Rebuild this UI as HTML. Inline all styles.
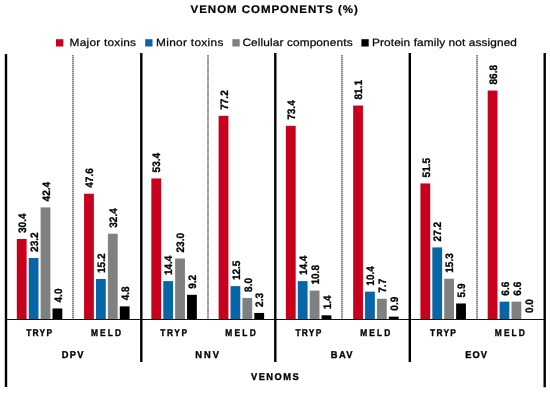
<!DOCTYPE html><html><head><meta charset="utf-8"><style>html,body{margin:0;padding:0;background:#fff;overflow:hidden;width:550px;height:393px;}svg{display:block;}text{font-family:"Liberation Sans",Arial,sans-serif;fill:#000;text-rendering:geometricPrecision;}text.b{stroke:#000;stroke-width:0.3px;}text.t{stroke:#000;stroke-width:0.2px;}text.c{stroke:#000;stroke-width:0.35px;}text.v{stroke:#000;stroke-width:0.3px;}text.l{stroke:#161616;stroke-width:0.25px;}</style></head><body>
<svg width="550" height="393" viewBox="0 0 550 393">
<rect width="550" height="393" fill="#fff"/>
<text transform="translate(190.6,12.6) scale(1.05,1)" class="t" font-size="11" font-weight="bold" textLength="159.24" lengthAdjust="spacing">VENOM COMPONENTS (%)</text>
<rect x="56" y="39.2" width="7.3" height="7.3" fill="#C8001E"/>
<text transform="translate(69.6,45.7) scale(1.12,1)" class="l" font-size="10.6" fill="#161616" textLength="59.29" lengthAdjust="spacing">Major toxins</text>
<rect x="145.2" y="39.2" width="7.3" height="7.3" fill="#0866A6"/>
<text transform="translate(156.0,45.7) scale(1.12,1)" class="l" font-size="10.6" fill="#161616" textLength="60.18" lengthAdjust="spacing">Minor toxins</text>
<rect x="232.4" y="39.2" width="7.3" height="7.3" fill="#808080"/>
<text transform="translate(242.4,45.7) scale(1.12,1)" class="l" font-size="10.6" fill="#161616" textLength="98.39" lengthAdjust="spacing">Cellular components</text>
<rect x="361.4" y="39.2" width="7.3" height="7.3" fill="#000000"/>
<text transform="translate(372.0,45.7) scale(1.12,1)" class="l" font-size="10.6" fill="#161616" textLength="129.46" lengthAdjust="spacing">Protein family not assigned</text>
<line x1="73.00" y1="55" x2="73.00" y2="319" stroke="#c2c2c2" stroke-width="2"/>
<line x1="73.00" y1="55" x2="73.00" y2="319" stroke="#8c8c8c" stroke-width="2" stroke-dasharray="1 1"/>
<line x1="208.00" y1="55" x2="208.00" y2="319" stroke="#c2c2c2" stroke-width="2"/>
<line x1="208.00" y1="55" x2="208.00" y2="319" stroke="#8c8c8c" stroke-width="2" stroke-dasharray="1 1"/>
<line x1="342.00" y1="55" x2="342.00" y2="319" stroke="#c2c2c2" stroke-width="2"/>
<line x1="342.00" y1="55" x2="342.00" y2="319" stroke="#8c8c8c" stroke-width="2" stroke-dasharray="1 1"/>
<line x1="477.00" y1="55" x2="477.00" y2="319" stroke="#c2c2c2" stroke-width="2"/>
<line x1="477.00" y1="55" x2="477.00" y2="319" stroke="#8c8c8c" stroke-width="2" stroke-dasharray="1 1"/>
<rect x="16.81" y="238.99" width="9.8" height="80.01" fill="#C8001E"/>
<text transform="translate(25.91,232.99) rotate(-90) scale(0.93,1)" class="v" font-size="10.8" font-weight="bold">30.4</text>
<rect x="28.71" y="257.94" width="9.8" height="61.06" fill="#0866A6"/>
<text transform="translate(37.81,251.94) rotate(-90) scale(0.93,1)" class="v" font-size="10.8" font-weight="bold">23.2</text>
<rect x="40.61" y="207.40" width="9.8" height="111.60" fill="#808080"/>
<text transform="translate(49.71,201.40) rotate(-90) scale(0.93,1)" class="v" font-size="10.8" font-weight="bold">42.4</text>
<rect x="52.51" y="308.47" width="9.8" height="10.53" fill="#000000"/>
<text transform="translate(61.61,302.47) rotate(-90) scale(0.93,1)" class="v" font-size="10.8" font-weight="bold">4.0</text>
<text transform="translate(26.22,336.4) scale(0.84,1)" class="c" font-size="10" font-weight="bold" textLength="30.74" lengthAdjust="spacing">TRYP</text>
<rect x="84.08" y="193.72" width="9.8" height="125.28" fill="#C8001E"/>
<text transform="translate(93.18,187.72) rotate(-90) scale(0.93,1)" class="v" font-size="10.8" font-weight="bold">47.6</text>
<rect x="95.98" y="278.99" width="9.8" height="40.01" fill="#0866A6"/>
<text transform="translate(105.08,272.99) rotate(-90) scale(0.93,1)" class="v" font-size="10.8" font-weight="bold">15.2</text>
<rect x="107.88" y="233.72" width="9.8" height="85.28" fill="#808080"/>
<text transform="translate(116.98,227.72) rotate(-90) scale(0.93,1)" class="v" font-size="10.8" font-weight="bold">32.4</text>
<rect x="119.78" y="306.37" width="9.8" height="12.63" fill="#000000"/>
<text transform="translate(128.88,300.37) rotate(-90) scale(0.93,1)" class="v" font-size="10.8" font-weight="bold">4.8</text>
<text transform="translate(90.97,336.4) scale(0.84,1)" class="c" font-size="10" font-weight="bold" textLength="35.92" lengthAdjust="spacing">MELD</text>
<text transform="translate(61.84,358.2) scale(0.95,1)" class="c" font-size="9.8" font-weight="bold" textLength="22.84" lengthAdjust="spacing">DPV</text>
<rect x="151.34" y="178.45" width="9.8" height="140.55" fill="#C8001E"/>
<text transform="translate(160.44,172.45) rotate(-90) scale(0.93,1)" class="v" font-size="10.8" font-weight="bold">53.4</text>
<rect x="163.25" y="281.10" width="9.8" height="37.90" fill="#0866A6"/>
<text transform="translate(172.34,275.10) rotate(-90) scale(0.93,1)" class="v" font-size="10.8" font-weight="bold">14.4</text>
<rect x="175.15" y="258.46" width="9.8" height="60.54" fill="#808080"/>
<text transform="translate(184.25,252.46) rotate(-90) scale(0.93,1)" class="v" font-size="10.8" font-weight="bold">23.0</text>
<rect x="187.04" y="294.79" width="9.8" height="24.21" fill="#000000"/>
<text transform="translate(196.14,288.79) rotate(-90) scale(0.93,1)" class="v" font-size="10.8" font-weight="bold">9.2</text>
<text transform="translate(160.22,336.4) scale(0.84,1)" class="c" font-size="10" font-weight="bold" textLength="31.93" lengthAdjust="spacing">TRYP</text>
<rect x="218.62" y="115.81" width="9.8" height="203.19" fill="#C8001E"/>
<text transform="translate(227.72,109.81) rotate(-90) scale(0.93,1)" class="v" font-size="10.8" font-weight="bold">77.2</text>
<rect x="230.52" y="286.10" width="9.8" height="32.90" fill="#0866A6"/>
<text transform="translate(239.62,280.10) rotate(-90) scale(0.93,1)" class="v" font-size="10.8" font-weight="bold">12.5</text>
<rect x="242.42" y="297.94" width="9.8" height="21.06" fill="#808080"/>
<text transform="translate(251.52,291.94) rotate(-90) scale(0.93,1)" class="v" font-size="10.8" font-weight="bold">8.0</text>
<rect x="254.32" y="312.95" width="9.8" height="6.05" fill="#000000"/>
<text transform="translate(263.42,306.95) rotate(-90) scale(0.93,1)" class="v" font-size="10.8" font-weight="bold">2.3</text>
<text transform="translate(225.37,336.4) scale(0.84,1)" class="c" font-size="10" font-weight="bold" textLength="36.15" lengthAdjust="spacing">MELD</text>
<text transform="translate(195.14,358.2) scale(0.95,1)" class="c" font-size="9.8" font-weight="bold" textLength="25.16" lengthAdjust="spacing">NNV</text>
<rect x="285.88" y="125.81" width="9.8" height="193.19" fill="#C8001E"/>
<text transform="translate(294.98,119.81) rotate(-90) scale(0.93,1)" class="v" font-size="10.8" font-weight="bold">73.4</text>
<rect x="297.78" y="281.10" width="9.8" height="37.90" fill="#0866A6"/>
<text transform="translate(306.88,275.10) rotate(-90) scale(0.93,1)" class="v" font-size="10.8" font-weight="bold">14.4</text>
<rect x="309.69" y="290.57" width="9.8" height="28.43" fill="#808080"/>
<text transform="translate(318.78,284.57) rotate(-90) scale(0.93,1)" class="v" font-size="10.8" font-weight="bold">10.8</text>
<rect x="321.58" y="315.32" width="9.8" height="3.68" fill="#000000"/>
<text transform="translate(330.68,309.32) rotate(-90) scale(0.93,1)" class="v" font-size="10.8" font-weight="bold">1.4</text>
<text transform="translate(295.42,336.4) scale(0.84,1)" class="c" font-size="10" font-weight="bold" textLength="30.74" lengthAdjust="spacing">TRYP</text>
<rect x="353.15" y="105.54" width="9.8" height="213.46" fill="#C8001E"/>
<text transform="translate(362.25,99.54) rotate(-90) scale(0.93,1)" class="v" font-size="10.8" font-weight="bold">81.1</text>
<rect x="365.05" y="291.63" width="9.8" height="27.37" fill="#0866A6"/>
<text transform="translate(374.15,285.63) rotate(-90) scale(0.93,1)" class="v" font-size="10.8" font-weight="bold">10.4</text>
<rect x="376.95" y="298.73" width="9.8" height="20.27" fill="#808080"/>
<text transform="translate(386.05,292.73) rotate(-90) scale(0.93,1)" class="v" font-size="10.8" font-weight="bold">7.7</text>
<rect x="388.85" y="316.63" width="9.8" height="2.37" fill="#000000"/>
<text transform="translate(397.95,310.63) rotate(-90) scale(0.93,1)" class="v" font-size="10.8" font-weight="bold">0.9</text>
<text transform="translate(360.17,336.4) scale(0.84,1)" class="c" font-size="10" font-weight="bold" textLength="35.92" lengthAdjust="spacing">MELD</text>
<text transform="translate(330.83,358.2) scale(0.95,1)" class="c" font-size="9.8" font-weight="bold" textLength="22.84" lengthAdjust="spacing">BAV</text>
<rect x="420.42" y="183.45" width="9.8" height="135.55" fill="#C8001E"/>
<text transform="translate(429.52,177.45) rotate(-90) scale(0.93,1)" class="v" font-size="10.8" font-weight="bold">51.5</text>
<rect x="432.32" y="247.41" width="9.8" height="71.59" fill="#0866A6"/>
<text transform="translate(441.42,241.41) rotate(-90) scale(0.93,1)" class="v" font-size="10.8" font-weight="bold">27.2</text>
<rect x="444.22" y="278.73" width="9.8" height="40.27" fill="#808080"/>
<text transform="translate(453.32,272.73) rotate(-90) scale(0.93,1)" class="v" font-size="10.8" font-weight="bold">15.3</text>
<rect x="456.12" y="303.47" width="9.8" height="15.53" fill="#000000"/>
<text transform="translate(465.22,297.47) rotate(-90) scale(0.93,1)" class="v" font-size="10.8" font-weight="bold">5.9</text>
<text transform="translate(430.02,336.4) scale(0.84,1)" class="c" font-size="10" font-weight="bold" textLength="30.74" lengthAdjust="spacing">TRYP</text>
<rect x="487.69" y="90.54" width="9.8" height="228.46" fill="#C8001E"/>
<text transform="translate(496.79,84.54) rotate(-90) scale(0.93,1)" class="v" font-size="10.8" font-weight="bold">86.8</text>
<rect x="499.59" y="301.63" width="9.8" height="17.37" fill="#0866A6"/>
<text transform="translate(508.69,295.63) rotate(-90) scale(0.93,1)" class="v" font-size="10.8" font-weight="bold">6.6</text>
<rect x="511.50" y="301.63" width="9.8" height="17.37" fill="#808080"/>
<text transform="translate(520.60,295.63) rotate(-90) scale(0.93,1)" class="v" font-size="10.8" font-weight="bold">6.6</text>
<text transform="translate(532.50,313.00) rotate(-90) scale(0.93,1)" class="v" font-size="10.8" font-weight="bold">0.0</text>
<text transform="translate(494.77,336.4) scale(0.84,1)" class="c" font-size="10" font-weight="bold" textLength="35.92" lengthAdjust="spacing">MELD</text>
<text transform="translate(465.33,358.2) scale(0.95,1)" class="c" font-size="9.8" font-weight="bold" textLength="22.84" lengthAdjust="spacing">EOV</text>
<line x1="6" y1="319.5" x2="545" y2="319.5" stroke="#111" stroke-width="1.1"/>
<line x1="6.0" y1="54" x2="6.0" y2="387" stroke="#000" stroke-width="2.4"/>
<line x1="141.3" y1="53" x2="141.3" y2="362" stroke="#000" stroke-width="2.4"/>
<line x1="275.3" y1="53" x2="275.3" y2="362" stroke="#000" stroke-width="2.4"/>
<line x1="409.8" y1="53" x2="409.8" y2="362" stroke="#000" stroke-width="2.4"/>
<line x1="544.7" y1="53" x2="544.7" y2="387.3" stroke="#000" stroke-width="2.4"/>
<text transform="translate(251,380.2) scale(0.95,1)" class="c" font-size="9.8" font-weight="bold" textLength="50.11" lengthAdjust="spacing">VENOMS</text>
</svg></body></html>
